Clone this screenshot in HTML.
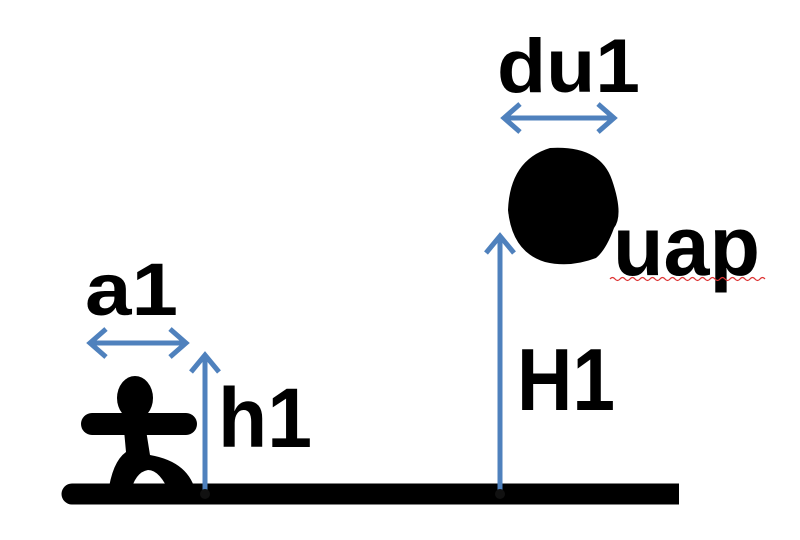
<!DOCTYPE html>
<html><head><meta charset="utf-8"><style>html,body{margin:0;padding:0;background:#fff}svg{display:block}</style></head>
<body>
<svg width="800" height="540" viewBox="0 0 800 540" xmlns="http://www.w3.org/2000/svg">
<g font-family="Liberation Sans, sans-serif" font-weight="bold" fill="#000">
<text x="497" y="92" font-size="76" textLength="143" lengthAdjust="spacingAndGlyphs">du1</text>
<text x="85" y="315" font-size="74" textLength="93" lengthAdjust="spacingAndGlyphs">a1</text>
<text x="218" y="447" font-size="84" textLength="94" lengthAdjust="spacingAndGlyphs">h1</text>
<text x="517" y="410" font-size="88" textLength="98" lengthAdjust="spacingAndGlyphs">H1</text>
<text x="613" y="275" font-size="84" textLength="147" lengthAdjust="spacingAndGlyphs">uap</text>
</g>
<path d="M610 279 q2.5 -3 5 0 t5 0 t5 0 t5 0 t5 0 t5 0 t5 0 t5 0 t5 0 t5 0 t5 0 t5 0 t5 0 t5 0 t5 0 t5 0 t5 0 t5 0 t5 0 t5 0 t5 0 t5 0 t5 0 t5 0 t5 0 t5 0 t5 0 t5 0 t5 0 t5 0 t5 0" fill="none" stroke="#d33" stroke-width="1.2"/>
<path d="M72 494 H679" stroke="#000" stroke-width="21" stroke-linecap="butt"/>
<circle cx="72" cy="494" r="10.5" fill="#000"/>
<ellipse cx="135" cy="398" rx="18" ry="22" fill="#000"/>
<path d="M92 424 H186" stroke="#000" stroke-width="22" stroke-linecap="round"/>
<path d="M124 430 H146 L150 455 Q190 462 196 494 H170 Q160 470 148 470 Q135 472 130 494 H108 Q112 462 126 452 Z" fill="#000"/>
<path d="M550 148 Q600 145 612 180 Q624 215 614 228 Q606 250 596 258 Q570 268 545 262 Q512 252 508 210 Q510 160 550 148 Z" fill="#000"/>
<g stroke="#4f81bd" stroke-width="5" fill="none" stroke-linecap="butt" stroke-linejoin="miter">
<path d="M90 343 H186"/><path d="M106 329 L90 343 L106 357"/><path d="M170 329 L186 343 L170 357"/>
<path d="M504 118 H614"/><path d="M520 104 L504 118 L520 132"/><path d="M598 104 L614 118 L598 132"/>
<path d="M205 492 V355"/><path d="M191 372 L205 355 L219 372"/>
<path d="M500 492 V236"/><path d="M486 253 L500 236 L514 253"/>
</g>
<circle cx="205" cy="494" r="5" fill="#111"/>
<circle cx="500" cy="494" r="5" fill="#111"/>
</svg>
</body></html>
